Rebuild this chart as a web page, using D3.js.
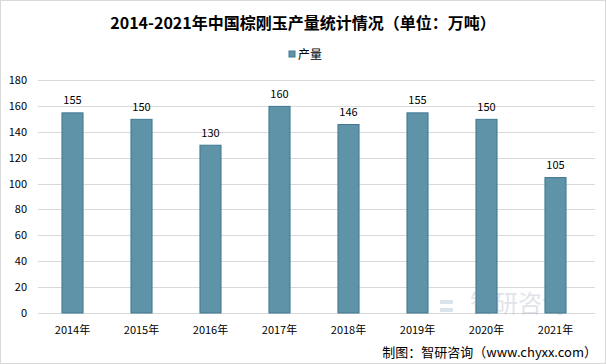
<!DOCTYPE html>
<html><head><meta charset="utf-8">
<script src="https://cdn.jsdelivr.net/npm/d3@7"></script>
<style>body{margin:0;background:#fff}svg{display:block}</style>
</head><body><svg id="c" width="606" height="364"></svg>
<script>
const categories = ["2014年","2015年","2016年","2017年","2018年","2019年","2020年","2021年"];
const values = [155,150,130,160,146,155,150,105];
const yTicks = [0,20,40,60,80,100,120,140,160,180];
const seriesName = "产量";
const title = "2014-2021年中国棕刚玉产量统计情况（单位：万吨）";
const source = "制图：智研咨询（www.chyxx.com）";

const svg = d3.select("#c");
const font = "'Noto Sans CJK SC','Microsoft YaHei',sans-serif";
svg.append("rect").attr("x",0.5).attr("y",0.5).attr("width",605).attr("height",363).attr("fill","#fff").attr("stroke","#d9d9d9");

const x = d3.scaleBand().domain(categories).range([38,590]).paddingInner(0.68).paddingOuter(0.34);
const y = d3.scaleLinear().domain([0,180]).range([313,80]);

// grid
svg.append("g").selectAll("line").data(yTicks).join("line")
  .attr("x1",38).attr("x2",595).attr("y1",d=>Math.round(y(d))+0.5).attr("y2",d=>Math.round(y(d))+0.5)
  .attr("stroke","#d9d9d9").attr("stroke-width",1);

// y labels
svg.append("g").selectAll("text").data(yTicks).join("text")
  .attr("x",27).attr("y",d=>y(d)+4).attr("text-anchor","end")
  .attr("font-family",font).attr("font-size",11).attr("fill","#000").text(d=>d);

// watermark (behind bars)
const wm = svg.append("g").attr("opacity",0.3);
wm.append("rect").attr("x",440).attr("y",300).attr("width",13).attr("height",4).attr("fill","#8aa0c0");
wm.append("rect").attr("x",440).attr("y",308).attr("width",13).attr("height",4).attr("fill","#8aa0c0");
wm.append("text").attr("x",470).attr("y",312).attr("font-family",font).attr("font-size",24).attr("fill","#9aa6b8").text("智研咨询");

// bars
svg.append("g").selectAll("rect").data(values).join("rect")
  .attr("x",(d,i)=>x(categories[i])+0.5).attr("y",d=>y(d)+0.5)
  .attr("width",x.bandwidth()-1).attr("height",d=>y(0)-y(d)-0.5)
  .attr("fill","#5e93a8").attr("stroke","#3e7892").attr("stroke-width",1);

// value labels
svg.append("g").selectAll("text").data(values).join("text")
  .attr("x",(d,i)=>x(categories[i])+x.bandwidth()/2).attr("y",d=>y(d)-8)
  .attr("text-anchor","middle").attr("font-family",font).attr("font-size",11).attr("fill","#000").text(d=>d);

// x labels
svg.append("g").selectAll("text").data(categories).join("text")
  .attr("x",d=>x(d)+x.bandwidth()/2).attr("y",334)
  .attr("text-anchor","middle").attr("font-family",font).attr("font-size",11).attr("fill","#000").text(d=>d);

// title
svg.append("text").attr("x",303).attr("y",29).attr("text-anchor","middle")
  .attr("font-family",font).attr("font-size",16).attr("font-weight","bold").attr("fill","#000").text(title);

// legend
svg.append("rect").attr("x",289).attr("y",51).attr("width",6).attr("height",6).attr("fill","#5e93a8").attr("stroke","#3e7892");
svg.append("text").attr("x",298).attr("y",59).attr("font-family",font).attr("font-size",12).attr("fill","#000").text(seriesName);

// source
svg.append("text").attr("x",597).attr("y",357).attr("text-anchor","end")
  .attr("font-family",font).attr("font-size",13).attr("fill","#000").text(source);
</script></body></html>
